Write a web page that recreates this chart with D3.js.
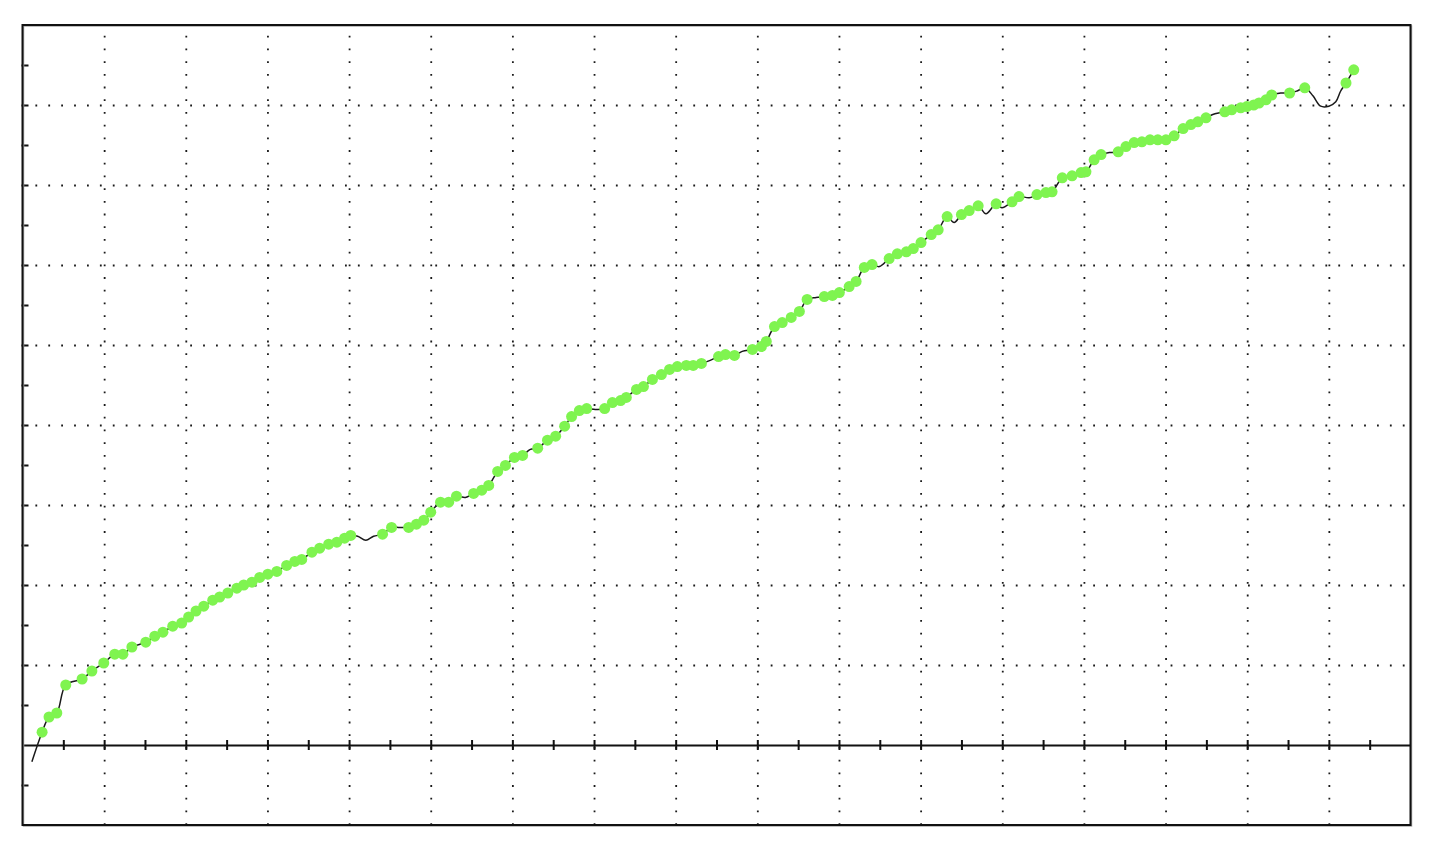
<!DOCTYPE html>
<html>
<head>
<meta charset="utf-8">
<script src="https://cdn.jsdelivr.net/npm/d3@7"></script>
<style>
  body { margin: 0; background: #fff; }
  svg { display: block; }
</style>
</head>
<body>
<svg id="chart" width="1430" height="856"></svg>
<script>
// x positions of the curve (axis units, one tick = 1)
const xVals = [
  0.23, 0.48, 0.65, 0.84, 1.06, 1.46, 1.70, 1.99, 2.26, 2.46,
  2.68, 3.02, 3.24, 3.44, 3.68, 3.90, 4.07, 4.25, 4.44, 4.66,
  4.83, 5.03, 5.25, 5.42, 5.62, 5.81, 6.01, 6.23, 6.47, 6.67,
  6.84, 7.09, 7.28, 7.50, 7.70, 7.89, 8.04, 8.21, 8.41, 8.60,
  8.82, 9.04, 9.24, 9.46, 9.65, 9.83, 10.00, 10.24, 10.44, 10.63,
  10.85, 11.05, 11.25, 11.42, 11.64, 11.83, 12.05, 12.25, 12.44, 12.62,
  12.86, 13.06, 13.28, 13.45, 13.64, 13.82, 14.03, 14.26, 14.45, 14.65,
  14.79, 15.04, 15.21, 15.43, 15.65, 15.85, 16.04, 16.26, 16.43, 16.63,
  16.83, 17.05, 17.22, 17.44, 17.63, 17.88, 18.10, 18.22, 18.42, 18.61,
  18.83, 19.03, 19.22, 19.44, 19.64, 19.84, 20.01, 20.25, 20.42, 20.62,
  20.81, 20.99, 21.23, 21.43, 21.65, 21.82, 22.01, 22.26, 22.43, 22.65,
  22.82, 23.00, 23.19, 23.41, 23.60, 23.85, 23.99, 24.24, 24.41, 24.66,
  24.85, 25.07, 25.22, 25.47, 25.71, 25.93, 26.05, 26.25, 26.42, 26.62,
  26.84, 27.03, 27.23, 27.42, 27.62, 27.81, 28.01, 28.21, 28.43, 28.62,
  28.79, 28.99, 29.21, 29.45, 29.62, 29.84, 29.99, 30.16, 30.29, 30.46,
  30.60, 30.82, 31.04, 31.22, 31.41, 31.61, 31.80, 32.00, 32.17, 32.29,
  32.42, 32.61
];

const yVals = [
  -0.42, 0.32, 0.70, 0.80, 1.50, 1.65, 1.85, 2.05, 2.27, 2.27,
  2.45, 2.57, 2.72, 2.82, 2.97, 3.05, 3.20, 3.35, 3.47, 3.62,
  3.70, 3.80, 3.92, 4.00, 4.07, 4.19, 4.27, 4.34, 4.49, 4.59,
  4.64, 4.82, 4.92, 5.02, 5.07, 5.17, 5.24, 5.22, 5.12, 5.22,
  5.27, 5.44, 5.44, 5.44, 5.52, 5.62, 5.82, 6.07, 6.07, 6.22,
  6.19, 6.29, 6.37, 6.49, 6.84, 6.99, 7.19, 7.24, 7.39, 7.42,
  7.62, 7.72, 7.97, 8.21, 8.36, 8.41, 8.39, 8.41, 8.56, 8.61,
  8.69, 8.89, 8.96, 9.14, 9.26, 9.39, 9.46, 9.49, 9.49, 9.54,
  9.61, 9.71, 9.76, 9.74, 9.84, 9.89, 9.96, 10.09, 10.46, 10.56,
  10.69, 10.84, 11.14, 11.19, 11.21, 11.24, 11.31, 11.46, 11.59, 11.94,
  12.01, 11.96, 12.16, 12.28, 12.33, 12.41, 12.56, 12.76, 12.88, 13.21,
  13.06, 13.26, 13.36, 13.48, 13.28, 13.53, 13.43, 13.58, 13.71, 13.68,
  13.76, 13.81, 13.83, 14.18, 14.23, 14.31, 14.33, 14.63, 14.76, 14.81,
  14.83, 14.96, 15.06, 15.08, 15.13, 15.13, 15.13, 15.23, 15.41, 15.51,
  15.58, 15.68, 15.78, 15.83, 15.88, 15.93, 15.96, 16.00, 16.05, 16.13,
  16.25, 16.30, 16.30, 16.35, 16.43, 16.23, 15.97, 15.97, 16.08, 16.35,
  16.55, 16.88
];

// indices of curve points that carry no marker
const noMarker = [0, 37, 38, 39, 42, 50, 58, 66, 80, 84, 93, 101, 110, 114,
  116, 119, 129, 142, 151, 153, 155, 156, 157, 158, 159];

const xTicks = d3.range(1, 34);
const xGrid = d3.range(2, 34, 2);
const yTicks = d3.range(-1, 18).filter(d => d !== 0);
const yGrid = d3.range(2, 18, 2);

const svg = d3.select("#chart");
const box = {left: 22.5, right: 1410.5, top: 25, bottom: 825};

const x = d3.scaleLinear().domain([0, 34]).range([box.left, box.right]);
const y = d3.scaleLinear().domain([-2, 18]).range([box.bottom, box.top]);

const points = xVals.map((v, i) => ({x: v, y: yVals[i], dot: !noMarker.includes(i)}));

// dotted grid
svg.append("g")
    .attr("transform", `translate(0,${box.bottom})`)
    .call(d3.axisBottom(x).tickValues(xGrid).tickSize(-(box.bottom - box.top)).tickFormat(""))
    .call(g => g.select(".domain").remove())
    .selectAll("line")
    .attr("stroke", "#1a1a1a")
    .attr("stroke-width", 1.8)
    .attr("stroke-dasharray", "1.8,10.9");

svg.append("g")
    .attr("transform", `translate(${box.left},0)`)
    .call(d3.axisRight(y).tickValues(yGrid).tickSize(box.right - box.left).tickFormat(""))
    .call(g => g.select(".domain").remove())
    .selectAll("line")
    .attr("stroke", "#1a1a1a")
    .attr("stroke-width", 1.8)
    .attr("stroke-dasharray", "1.8,11.1");

// zero line with crossing ticks
svg.append("g")
    .attr("transform", `translate(0,${y(0)})`)
    .call(d3.axisBottom(x).tickValues(xTicks).tickSizeOuter(0).tickFormat(""))
    .call(g => g.select(".domain")
        .attr("stroke", "#111").attr("stroke-width", 2))
    .call(g => g.selectAll(".tick line")
        .attr("y1", -5).attr("y2", 5)
        .attr("stroke", "#111").attr("stroke-width", 2));

// left ticks
svg.append("g")
    .attr("transform", `translate(${box.left},0)`)
    .call(d3.axisRight(y).tickValues(yTicks).tickSize(6).tickFormat(""))
    .call(g => g.select(".domain").remove())
    .selectAll(".tick line")
    .attr("x1", -1)
    .attr("stroke", "#111")
    .attr("stroke-width", 2);

// frame
svg.append("rect")
    .attr("x", box.left + 1)
    .attr("y", box.top + 1)
    .attr("width", box.right - box.left)
    .attr("height", box.bottom - box.top)
    .attr("fill", "none")
    .attr("stroke", "#aaa")
    .attr("stroke-width", 1.5);
svg.append("rect")
    .attr("x", box.left)
    .attr("y", box.top)
    .attr("width", box.right - box.left)
    .attr("height", box.bottom - box.top)
    .attr("fill", "none")
    .attr("stroke", "#111")
    .attr("stroke-width", 2);

// curve
const line = d3.line()
    .x(d => x(d.x))
    .y(d => y(d.y))
    .curve(d3.curveCatmullRom.alpha(0.5));

svg.append("path")
    .datum(points)
    .attr("d", line)
    .attr("fill", "none")
    .attr("stroke", "#1a1a1a")
    .attr("stroke-width", 1.5);

// markers
svg.append("g")
    .selectAll("circle")
    .data(points.filter(d => d.dot))
    .enter()
    .append("circle")
    .attr("cx", d => x(d.x))
    .attr("cy", d => y(d.y))
    .attr("r", 5.5)
    .attr("fill", "#7ff450");
</script>
</body>
</html>
